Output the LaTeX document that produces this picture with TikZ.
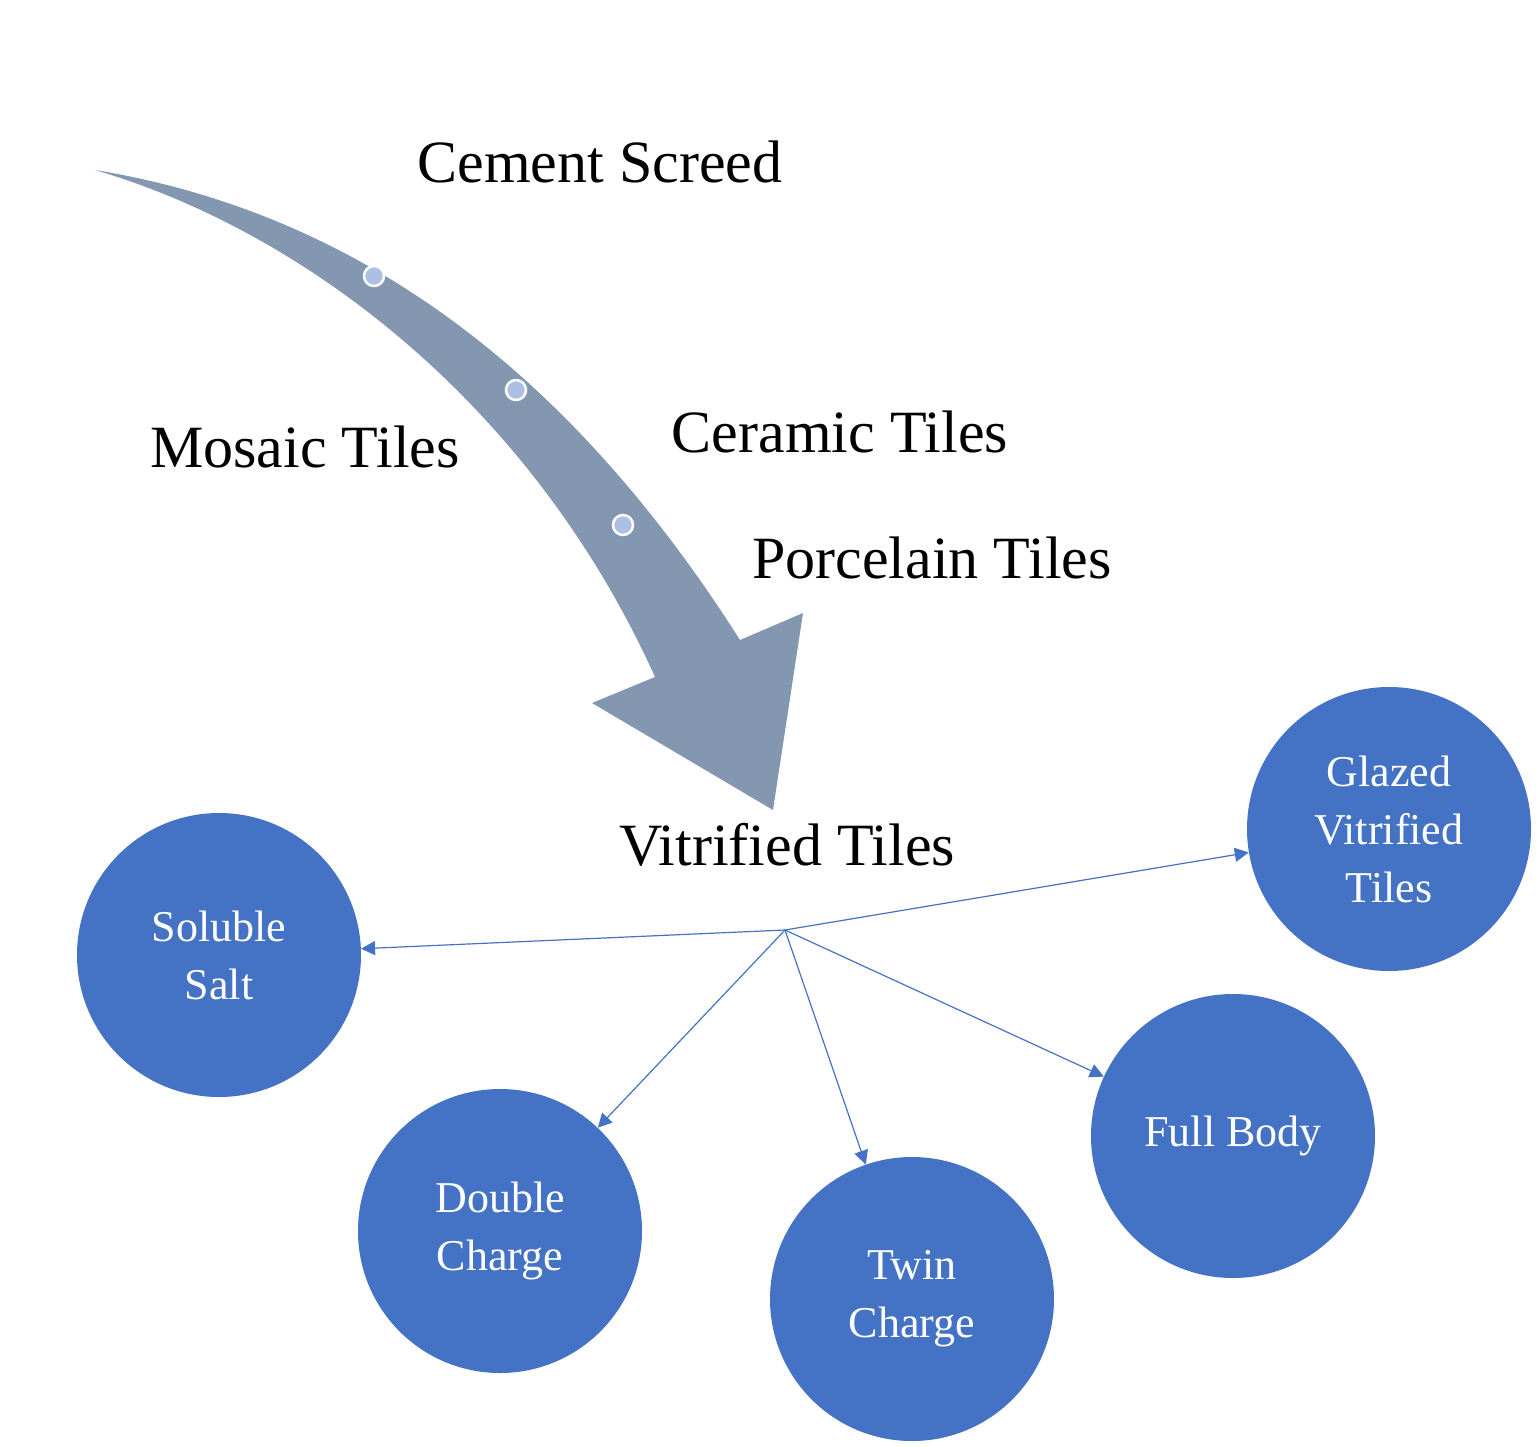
\documentclass[tikz,border=0pt]{standalone}
\usepackage{fontspec}
\setmainfont{Liberation Serif}
\usetikzlibrary{arrows.meta}
\definecolor{cblue}{HTML}{4472C4}
\definecolor{agray}{HTML}{8497B0}
\begin{document}
\begin{tikzpicture}[x=1pt,y=-1pt,
  circ/.style={circle,fill=cblue,minimum size=284pt,inner sep=0pt,text=white,font=\fontsize{44}{58}\selectfont,align=center},
  lab/.style={font=\fontsize{60}{70}\selectfont},
  dot/.style={circle,fill=cblue!45,draw=white,line width=2.5pt,minimum size=20pt,inner sep=0pt},
  con/.style={cblue,line width=1.2pt,-{Triangle[length=14pt,width=14pt]}}]
\useasboundingbox (0,0) rectangle (1536,1446);
\fill[agray] (95,170) .. controls (400,220) and (600,420) .. (740,640)
  -- (803,613) -- (773,810) -- (592,703) -- (655,677)
  .. controls (530,400) and (300,230) .. (95,170) -- cycle;
\node[dot] (d1) at (374,276) {};
\node[dot] (d2) at (516,390) {};
\node[dot] (d3) at (623,525) {};
\node[lab] (cs) at (600,162) {Cement Screed};
\node[lab] (mt) at (305,447) {Mosaic Tiles};
\node[lab] (ct) at (840,432) {Ceramic Tiles};
\node[lab] (pt) at (932,558) {Porcelain Tiles};
\node[lab] (vt) at (787,845) {Vitrified Tiles};
\node[circ] (ss) at (219,955) {Soluble\\Salt};
\node[circ] (dc) at (500,1231) {Double\\Charge};
\node[circ] (tc) at (912,1299) {Twin\\Charge};
\node[circ] (fb) at (1233,1136) {Full Body};
\node[circ] (gv) at (1389,829) {Glazed\\Vitrified\\Tiles};
\coordinate (h) at (785,930);
\draw[con] (h) -- (ss);
\draw[con] (h) -- (dc);
\draw[con] (h) -- (tc);
\draw[con] (h) -- (fb);
\draw[con] (h) -- (gv);
\end{tikzpicture}
\end{document}
